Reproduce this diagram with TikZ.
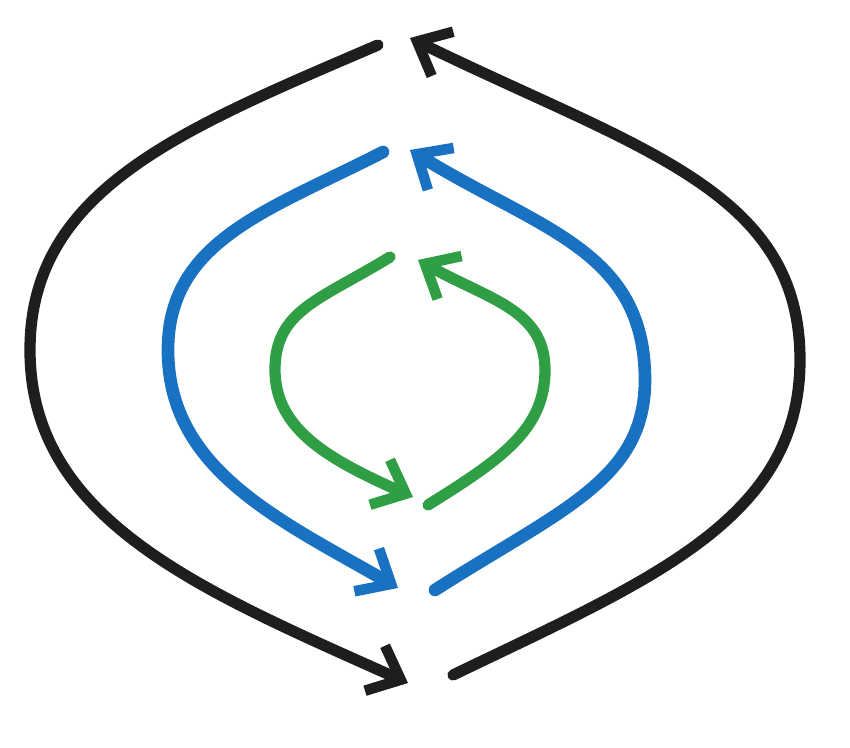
\documentclass[tikz,border=0pt]{standalone}
\usetikzlibrary{arrows.meta}
\definecolor{ink}{HTML}{1E1E1E}
\definecolor{bl}{HTML}{1971C2}
\definecolor{gr}{HTML}{2F9E44}
\begin{document}
\begin{tikzpicture}[x=0.01cm,y=-0.01cm,line cap=round,line join=round,
  arr/.style={line width=3.2pt,-{Straight Barb[length=8pt,width=14pt,line width=3pt]}}]
\useasboundingbox (0,0) rectangle (850,748);
% black
\draw[arr,ink] (378,45) .. controls (180,130) and (30,190) .. (30,350) .. controls (30,520) and (200,590) .. (408,683);
\draw[arr,ink] (453,675) .. controls (650,580) and (800,520) .. (800,360) .. controls (800,190) and (640,150) .. (410,38);
% blue
\draw[arr,bl,line width=3.6pt] (383,152) .. controls (270,210) and (168,240) .. (168,350) .. controls (168,470) and (280,520) .. (398,588);
\draw[arr,bl,line width=3.6pt] (435,590) .. controls (560,510) and (645,480) .. (645,380) .. controls (645,250) and (540,230) .. (410,150);
% green
\draw[arr,gr] (390,257) .. controls (320,300) and (275,310) .. (275,370) .. controls (275,430) and (330,460) .. (413,497);
\draw[arr,gr] (428,505) .. controls (500,460) and (545,430) .. (545,370) .. controls (545,310) and (490,300) .. (418,260);
\end{tikzpicture}
\end{document}
